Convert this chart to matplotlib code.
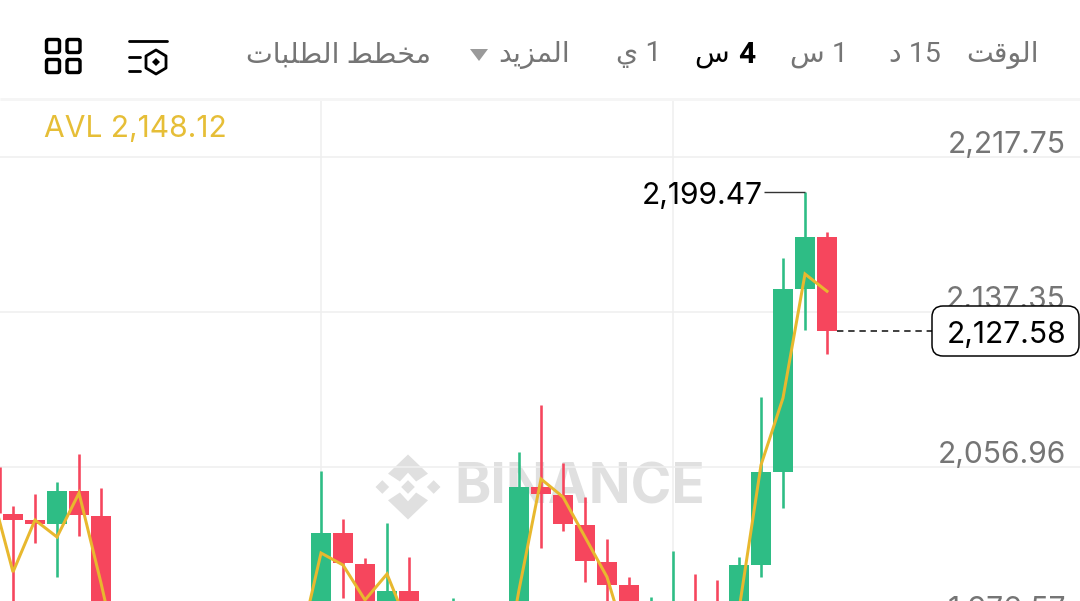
"""Binance style candlestick screenshot, 4h chart with AVL line and RTL header."""

from __future__ import annotations

import matplotlib
matplotlib.use('Agg')

import matplotlib.pyplot as plt
from matplotlib.patches import FancyBboxPatch, Polygon

# ── Data ─────────────────────────────────────────────────────────────────────
CANDLE_IDX = [1, 2, 3, 4, 5, 15, 16, 17, 18, 19, 21, 24, 25, 26, 27, 28, 29,
              30, 31, 32, 33, 34, 35, 36, 37, 38]
OPEN = [2032.59, 2029.48, 2027.41, 2044.52, 2031.55, 1977.62, 2022.74, 2006.66,
        1980.21, 1992.66, 1977.62, 1975.02, 2046.60, 2042.45, 2026.89, 2007.70,
        1995.77, 1975.02, 1977.62, 1982.80, 1982.80, 1975.02, 2006.14, 2054.38,
        2149.29, 2176.26]
HIGH = [2036.74, 2042.96, 2049.19, 2063.71, 2046.08, 2054.89, 2030.00, 2009.77,
        2027.92, 2010.29, 1989.03, 2064.75, 2089.12, 2059.04, 2041.41, 2019.63,
        1999.92, 1989.54, 2013.40, 2001.47, 1998.36, 2010.29, 2093.27, 2165.37,
        2199.47, 2178.85]
LOW = [1972.00, 2017.55, 1999.92, 2021.18, 1968.00, 1970.00, 1989.03, 1975.00,
       1972.00, 1975.00, 1972.00, 1968.00, 2014.96, 2023.77, 1997.32, 1982.80,
       1972.00, 1968.00, 1970.00, 1972.00, 1972.00, 1967.20, 1999.92, 2035.70,
       2128.02, 2115.58]
CLOSE = [2029.48, 2027.41, 2044.52, 2032.07, 1975.02, 2022.74, 2007.18, 1982.80,
         1992.66, 1982.80, 1982.80, 2046.60, 2042.96, 2027.41, 2008.22, 1995.77,
         1980.21, 1982.80, 1985.39, 1977.62, 1977.62, 2006.14, 2054.38, 2149.29,
         2176.26, 2127.58]

# stray wick cut by the left edge of the screenshot
EDGE_WICK_X = 0.41
EDGE_WICK_HIGH = 2056.97
EDGE_WICK_LOW = 2033.11

AVL_IDX = list(range(39))
AVL = [2045.56, 2002.51, 2029.48, 2020.66, 2043.48, 1996.81, 1946.50, 1945.00,
       1942.00, 1940.00, 1940.00, 1942.00, 1945.00, 1950.00, 1962.57, 2012.36,
       2006.14, 1987.99, 2001.47, 1973.47, 1967.20, 1967.00, 1965.00, 1930.00,
       1993.18, 2050.75, 2041.41, 2020.66, 1999.92, 1962.05, 1956.90, 1954.00,
       1954.00, 1951.70, 1982.80, 2058.01, 2092.76, 2157.07, 2148.12]

GRID_PRICES = [2217.75, 2137.35, 2056.96, 1976.57]
GRID_LABELS = ['2,217.75', '2,137.35', '2,056.96', '1,976.57']
GRID_IDX = [15, 31]

HIGH_LABEL = '2,199.47'
LAST_LABEL = '2,127.58'
AVL_LABEL = 'AVL 2,148.12'
WATERMARK = 'BINANCE'

TAB_LABELS = ['الوقت', '15 د', '1 س', '1 ي', 'المزيد', 'مخطط الطلبات']
TAB_RIGHT = [1039, 941, 848, 661, 570, 431]
ACTIVE_NUM = '4'
ACTIVE_UNIT = 'س'

# ── Axis frame, px <-> data ──────────────────────────────────────────────────
W, H = 1080, 601
XLO, XHI = 9 / 22, 1089 / 22
YTOP, YBOTTOM = 2299.18, 1987.47
CHART_TOP = 2247.83

GREEN = '#2EBD85'
RED = '#F6465D'
GOLD = '#E8B82E'
GREY = '#757575'
GRID = '#EFEFEF'
MARK = '#E0E0E0'
PX = 0.72  # one pixel in points at dpi 100
PRICE_FONT = ['Inter', 'DejaVu Sans']
PRICE_SIZE = 21.6

# Isolated, final, initial, medial presentation forms
FORMS = {
    'ا': (0xFE8D, 0xFE8E), 'ب': (0xFE8F, 0xFE90, 0xFE91, 0xFE92),
    'ت': (0xFE95, 0xFE96, 0xFE97, 0xFE98), 'خ': (0xFEA5, 0xFEA6, 0xFEA7, 0xFEA8),
    'د': (0xFEA9, 0xFEAA), 'ز': (0xFEAF, 0xFEB0),
    'س': (0xFEB1, 0xFEB2, 0xFEB3, 0xFEB4), 'ط': (0xFEC1, 0xFEC2, 0xFEC3, 0xFEC4),
    'ق': (0xFED5, 0xFED6, 0xFED7, 0xFED8), 'ل': (0xFEDD, 0xFEDE, 0xFEDF, 0xFEE0),
    'م': (0xFEE1, 0xFEE2, 0xFEE3, 0xFEE4), 'و': (0xFEED, 0xFEEE),
    'ي': (0xFEF1, 0xFEF2, 0xFEF3, 0xFEF4),
}


def _shape_word(word: str) -> str:
    if word[0] not in FORMS:
        return word
    out = []
    for i, ch in enumerate(word):
        forms = FORMS[ch]
        before = i > 0 and len(FORMS[word[i - 1]]) == 4
        after = i < len(word) - 1 and len(forms) == 4
        if before and after:
            out.append(chr(forms[3]))
        elif before:
            out.append(chr(forms[1]))
        elif after:
            out.append(chr(forms[2]))
        else:
            out.append(chr(forms[0]))
    return ''.join(reversed(out))


def rtl(text: str) -> str:
    # matplotlib has no bidi or joining, so lay the words out visually here
    return ' '.join(_shape_word(w) for w in reversed(text.split(' ')))


def overlay(fig, zorder: int):
    ui = fig.add_axes([0, 0, 1, 1], zorder=zorder)
    ui.set_xlim(0, W)
    ui.set_ylim(H, 0)
    ui.axis('off')
    ui.patch.set_alpha(0)
    return ui


def draw_icons(ui) -> None:
    for x0 in (46.5, 67):
        for y0 in (39.5, 59.5):
            ui.add_patch(FancyBboxPatch(
                (x0, y0), 13, 13, boxstyle='round,pad=0,rounding_size=2',
                fc='none', ec='black', lw=3.4 * PX))
    ui.plot([129, 167], [41, 41], color='black', lw=2.8 * PX, solid_capstyle='round')
    ui.plot([129, 140], [57, 57], color='black', lw=2.8 * PX, solid_capstyle='round')
    ui.plot([129, 140], [71, 71], color='black', lw=2.8 * PX, solid_capstyle='round')
    ui.add_patch(Polygon(
        [(156, 50), (166, 56), (166, 68), (156, 74), (146, 68), (146, 56)],
        closed=True, fc='none', ec='black', lw=2.8 * PX, joinstyle='round'))
    ui.add_patch(Polygon([(156, 58), (160, 62), (156, 66), (152, 62)], fc='black', ec='none'))
    ui.add_patch(Polygon([(470, 49), (488, 49), (479, 61)], fc='#9A9A9A', ec='none'))


def draw_logo(ui, cx: float = 408, cy: float = 487, r: float = 32.5) -> None:
    top = [(0, -1), (0.615, -0.41), (0.25, -0.17), (0, -0.44), (-0.25, -0.17), (-0.615, -0.41)]
    shapes = [top, [(x, -y) for x, y in top]]
    for dx in (-0.79, 0, 0.79):
        h = 0.21
        shapes.append([(dx, -h), (dx + h, 0), (dx, h), (dx - h, 0)])
    for shape in shapes:
        ui.add_patch(Polygon([(cx + x * r, cy + y * r) for x, y in shape],
                             fc=MARK, ec='none'))


def main() -> None:
    fig = plt.figure(figsize=(W / 100, H / 100), dpi=100, facecolor='white')

    under = overlay(fig, 0)
    ax = fig.add_axes([0, 0, 1, 1], zorder=2)
    ax.set_xlim(XLO, XHI)
    ax.set_ylim(YBOTTOM, YTOP)
    ax.axis('off')
    ax.patch.set_alpha(0)
    top = overlay(fig, 4)

    # ── Grid ─────────────────────────────────────────────────────────────────
    ax.hlines(GRID_PRICES, XLO, XHI, color=GRID, lw=1.6 * PX, zorder=1)
    ax.vlines(GRID_IDX, YBOTTOM, CHART_TOP, color=GRID, lw=1.6 * PX, zorder=1)
    ax.hlines(CHART_TOP, XLO, XHI, color='#F5F5F5', lw=3 * PX, zorder=1)

    for price, label in zip(GRID_PRICES, GRID_LABELS):
        ax.annotate(label, xy=(1, price), xycoords=('axes fraction', 'data'),
                    xytext=(-14, 12), textcoords='offset pixels',
                    ha='right', va='center', family=PRICE_FONT,
                    fontsize=PRICE_SIZE, color=GREY, zorder=2, annotation_clip=False)

    # ── Watermark ────────────────────────────────────────────────────────────
    draw_logo(under)
    under.text(454, 489, WATERMARK, family=PRICE_FONT, weight='bold',
               fontsize=39.6, color=MARK, ha='left', va='center')

    # ── Candles ──────────────────────────────────────────────────────────────
    colors = [GREEN if c >= o else RED for o, c in zip(OPEN, CLOSE)]
    ax.vlines(CANDLE_IDX, LOW, HIGH, colors=colors, lw=2.6 * PX, zorder=3)
    ax.vlines(EDGE_WICK_X, EDGE_WICK_LOW, EDGE_WICK_HIGH, colors=RED, lw=2.6 * PX, zorder=3)
    ax.bar(CANDLE_IDX, [abs(c - o) for o, c in zip(OPEN, CLOSE)],
           bottom=[min(o, c) for o, c in zip(OPEN, CLOSE)],
           width=20 / 22, color=colors, linewidth=0, zorder=4)

    ax.plot(AVL_IDX, AVL, color=GOLD, lw=3 * PX, zorder=5, solid_joinstyle='miter')

    # ── Price callouts ───────────────────────────────────────────────────────
    high_x = CANDLE_IDX[HIGH.index(max(HIGH))]
    ax.hlines(max(HIGH), high_x - 41 / 22, high_x, color='#333333', lw=1.4 * PX, zorder=6)
    ax.annotate(HIGH_LABEL, xy=(high_x - 42 / 22, max(HIGH)), xytext=(0, -4),
                textcoords='offset pixels', ha='right', va='center',
                family=PRICE_FONT, fontsize=PRICE_SIZE, color='black', zorder=6)

    ax.hlines(CLOSE[-1], CANDLE_IDX[-1] + 10 / 22, 42.77, color='#444444', lw=2 * PX,
              linestyles=(0, (3.2, 2.4)), zorder=6)
    top.add_patch(FancyBboxPatch((932, 306), 147, 50, boxstyle='round,pad=0,rounding_size=11',
                                 fc='white', ec='black', lw=1.5 * PX))
    top.text(1066, 335, LAST_LABEL, ha='right', va='center',
             family=PRICE_FONT, fontsize=PRICE_SIZE, color='black')

    # ── Header ───────────────────────────────────────────────────────────────
    draw_icons(top)
    for label, right in zip(TAB_LABELS, TAB_RIGHT):
        top.text(right, 55, rtl(label), ha='right', va='center',
                 family=['Roboto', 'DejaVu Sans'], fontsize=20.5, color=GREY)
    top.text(755, 55, ACTIVE_NUM, ha='right', va='center',
             family=['Roboto', 'DejaVu Sans'], fontsize=21.5, weight='bold', color='black')
    top.text(729, 55, rtl(ACTIVE_UNIT), ha='right', va='center',
             family=['Roboto', 'DejaVu Sans'], fontsize=20.5, color='black')
    top.text(44, 129, AVL_LABEL, ha='left', va='center',
             family=PRICE_FONT, fontsize=PRICE_SIZE, color='#E6BE37')

    fig.savefig('out.png', dpi=100, facecolor='white')
    plt.close(fig)


if __name__ == "__main__":
    main()
